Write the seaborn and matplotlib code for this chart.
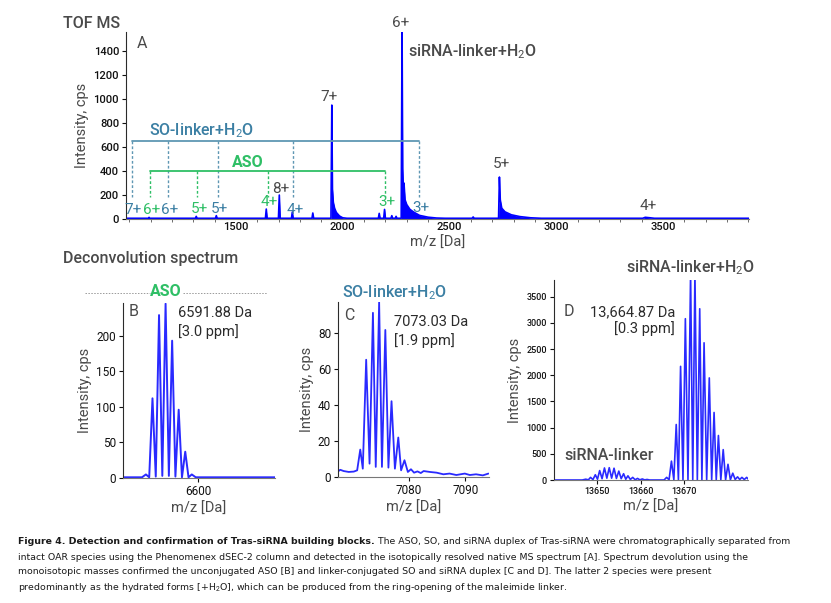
import matplotlib
matplotlib.use("Agg")
import matplotlib.pyplot as plt
import seaborn as sns
import pandas as pd

# ---- data: panel A (TOF MS spectrum, m/z vs intensity)
a_mz = [985, 1090, 1093, 1096, 1310, 1314, 1318, 1404, 1408, 1412, 1638, 1642, 1646,
        1699, 1703, 1707, 1760, 1764, 1768, 1856, 1860, 1864, 1945, 1949, 1952, 1956,
        1962, 1970, 1985, 2000, 2020, 2167, 2171, 2175, 2192, 2196, 2200, 2226, 2230,
        2234, 2246, 2250, 2254, 2274, 2278, 2281, 2284, 2287, 2292, 2300, 2315, 2335,
        2360, 2400, 2440, 2480, 2606, 2611, 2616, 2730, 2734, 2738, 2745, 2760, 2790,
        2830, 2880, 2930, 2980, 3405, 3417, 3440, 3460, 3903]
a_int = [6, 6, 14, 6, 6, 22, 6, 6, 28, 6, 6, 83, 6,
         6, 200, 6, 6, 58, 6, 6, 50, 6, 6, 950, 250, 140,
         90, 55, 25, 10, 6, 6, 47, 6, 6, 80, 6, 6, 28,
         6, 6, 22, 6, 6, 1600, 420, 260, 300, 160, 120, 80, 55,
         30, 15, 8, 6, 6, 17, 6, 6, 350, 160, 90, 60, 35,
         20, 10, 6, 6, 6, 14, 10, 6, 6]

# charge-state assignments (m/z of each charge)
so_mz = [1011, 1180, 1416, 1769, 2359]
so_lab = ["7+", "6+", "5+", "4+", "3+"]
so_lab_y = [75, 75, 85, 75, 90]
aso_mz = [1099, 1319, 1649, 2198]
aso_lab = ["6+", "5+", "4+", "3+"]
aso_lab_y = [75, 80, 140, 140]
main_mz = [1711, 1938, 2272, 2745, 3430]
main_lab = ["8+", "7+", "6+", "5+", "4+"]
main_lab_y = [253, 1017, 1633, 455, 105]

# ---- panel B (ASO deconvolution)
b_mass = [6588.5, 6591.4, 6592.0, 6592.5, 6593.0, 6593.5, 6594.0, 6594.5, 6595.0,
          6595.5, 6596.0, 6596.5, 6597.0, 6597.5, 6598.0, 6598.5, 6599.0, 6599.6, 6611.7]
b_int = [1, 1, 5, 1, 112, 2, 229, 3, 245, 3, 193, 2, 96, 1, 37, 1, 5, 1, 1]

# ---- panel C (SO-linker+H2O deconvolution)
c_mass = [7067.4, 7067.8, 7068.4, 7069.3, 7070.2, 7070.8, 7071.35, 7071.8, 7072.4,
          7073.0, 7073.6, 7074.1, 7074.7, 7075.2, 7075.8, 7076.35, 7076.9, 7077.5,
          7078.1, 7078.6, 7079.2, 7079.8, 7080.35, 7080.9, 7081.5, 7082.1, 7082.6,
          7083.7, 7084.9, 7086.1, 7087.2, 7088.4, 7089.9, 7090.8, 7091.9, 7093.1, 7094.1]
c_int = [3.1, 4.0, 3.3, 2.8, 3.0, 3.7, 15.2, 4.6, 65, 7.4, 91, 5.6, 97, 5.6, 81.5,
         5.2, 42, 4.6, 21.9, 3.7, 9.3, 2.8, 4.3, 2.4, 3.1, 2.2, 3.3, 2.8, 2.4, 1.5,
         1.9, 1.1, 1.9, 1.1, 1.5, 0.9, 1.9]

# ---- panel D (siRNA deconvolution)
d_mass = [13640.0, 13646.5, 13647.3, 13647.9, 13648.4, 13648.95, 13649.5, 13650.0,
          13650.5, 13651.05, 13651.6, 13652.15, 13652.7, 13653.25, 13653.8, 13654.35,
          13654.9, 13655.45, 13656.0, 13656.5, 13657.0, 13657.55, 13658.1, 13658.65,
          13659.2, 13659.75, 13660.3, 13660.85, 13661.4, 13662.0, 13665.3, 13665.9,
          13666.45, 13667.0, 13667.55, 13668.1, 13668.6, 13669.1, 13669.65, 13670.2,
          13670.8, 13671.4, 13671.9, 13672.4, 13672.95, 13673.5, 13674.0, 13674.5,
          13675.1, 13675.7, 13676.25, 13676.8, 13677.3, 13677.8, 13678.35, 13678.9,
          13679.45, 13680.0, 13680.55, 13681.1, 13681.65, 13682.2, 13682.7, 13683.2,
          13683.75, 13684.3, 13684.6]
d_int = [0, 0, 15, 3, 50, 8, 100, 15, 180, 25, 230, 35, 235, 35, 225, 30,
         170, 25, 120, 15, 80, 10, 50, 5, 30, 3, 20, 2, 10, 0, 0, 50,
         5, 360, 5, 1060, 5, 2170, 5, 3080, 5, 3950, 5, 3950, 5, 3270, 5, 2620,
         5, 1950, 5, 1290, 5, 850, 5, 580, 5, 300, 5, 130, 10, 60, 10, 50,
         10, 50, 20]

BLUE = "#0000ff"
LBLUE = "#2a2aff"
SO_C = "#3b7fa3"
SO_LINE = "#5f97b3"
ASO_C = "#2fbf66"
GRAY = "#4a4a4a"
DARK = "#2b2b2b"

sns.set_theme(style="ticks")
plt.rcParams["font.family"] = ["Roboto", "DejaVu Sans"]
plt.rcParams["mathtext.fontset"] = "custom"
plt.rcParams["mathtext.rm"] = "Roboto"
plt.rcParams["mathtext.it"] = "Roboto"
plt.rcParams["axes.linewidth"] = 0.8

W, H = 831, 603
fig = plt.figure(figsize=(W / 100, H / 100), dpi=100)


def rect(l, t, r, b):
    return [l / W, 1 - b / H, (r - l) / W, (b - t) / H]


def fx(px):
    return px / W


def fy(py):
    return 1 - py / H


def style_ax(ax, fs, weight="normal"):
    sns.despine(ax=ax)
    ax.spines["left"].set_color(DARK)
    ax.spines["bottom"].set_color("#777777")
    ax.tick_params(axis="both", labelsize=fs, colors="#111111", length=3, width=0.8, pad=2)
    for lab in ax.get_xticklabels() + ax.get_yticklabels():
        lab.set_fontweight(weight)
    ax.set_xlabel("m/z [Da]", color=GRAY, fontsize=10.5, labelpad=3)
    ax.set_ylabel("Intensity, cps", color=GRAY, fontsize=10.5, labelpad=3)
    ax.grid(False)


# ================= Panel A =================
axA = fig.add_axes(rect(126, 32, 749, 219))
dfA = pd.DataFrame({"mz": a_mz, "intensity": a_int})
axA.fill_between(dfA["mz"], 0, dfA["intensity"], color=BLUE, linewidth=0)
sns.lineplot(data=dfA, x="mz", y="intensity", ax=axA, color=BLUE, linewidth=1.2,
             estimator=None, sort=False)
axA.set_xlim(985, 3903)
axA.set_ylim(0, 1560)
axA.set_xticks([1500, 2000, 2500, 3000, 3500])
axA.set_yticks(range(0, 1401, 200))
axA.set_xticks(range(1000, 3901, 100), minor=True)
style_ax(axA, 8, "medium")
axA.tick_params(axis="x", which="minor", length=2, width=0.6, colors="#555555")
axA.tick_params(axis="x", which="major", length=0)

# SO-linker+H2O bracket
axA.plot([so_mz[0], so_mz[-1]], [650, 650], color=SO_LINE, lw=1.3)
for m, lab, ly in zip(so_mz, so_lab, so_lab_y):
    axA.plot([m, m], [650, 180], color=SO_LINE, lw=1.0, ls=(0, (2, 1.5)))
    axA.text(m + 8, ly, lab, color=SO_C, fontsize=11, ha="center", va="center")
axA.text(1340, 739, "SO-linker+H$_2$O", color=SO_C, fontsize=11.5, ha="center",
         va="center", fontweight="medium")

# ASO bracket
axA.plot([aso_mz[0], aso_mz[-1]], [400, 400], color=ASO_C, lw=1.3)
for m, lab, ly in zip(aso_mz, aso_lab, aso_lab_y):
    axA.plot([m, m], [400, 185], color=ASO_C, lw=1.0, ls=(0, (2, 1.5)))
    axA.text(m + 8, ly, lab, color=ASO_C, fontsize=11, ha="center", va="center")
axA.text(1554, 469, "ASO", color=ASO_C, fontsize=11.5, ha="center", va="center",
         fontweight="bold")

for m, lab, ly in zip(main_mz, main_lab, main_lab_y):
    axA.text(m, ly, lab, color=GRAY, fontsize=11, ha="center", va="center", clip_on=False)
axA.text(2307, 1392, "siRNA-linker+H$_2$O", color=GRAY, fontsize=11.5, ha="left",
         va="center", fontweight="medium")
axA.text(1059, 1460, "A", color=GRAY, fontsize=11.5, ha="center", va="center")

fig.text(fx(63), fy(23), "TOF MS", color=GRAY, fontsize=11.5, ha="left", va="center",
         fontweight="medium")
fig.text(fx(63), fy(259), "Deconvolution spectrum", color=GRAY, fontsize=11.5,
         ha="left", va="center", fontweight="medium")

# ================= Panel B =================
axB = fig.add_axes(rect(123, 303, 275, 478))
dfB = pd.DataFrame({"mass": b_mass, "intensity": b_int})
sns.lineplot(data=dfB, x="mass", y="intensity", ax=axB, color=LBLUE, linewidth=1.4,
             estimator=None, sort=False)
axB.set_xlim(6588.5, 6611.7)
axB.set_ylim(0, 246)
axB.set_xticks([6600])
axB.set_yticks([0, 50, 100, 150, 200])
style_ax(axB, 8.5)
fig.text(fx(129), fy(312), "B", color=GRAY, fontsize=11.5, ha="left", va="center")
fig.text(fx(178), fy(313), "6591.88 Da", color=DARK, fontsize=10.5, ha="left", va="center")
fig.text(fx(178), fy(332), "[3.0 ppm]", color=DARK, fontsize=10.5, ha="left", va="center")
fig.text(fx(166), fy(291), "ASO", color=ASO_C, fontsize=11.5, ha="center", va="center",
         fontweight="bold")
fig.add_artist(plt.Line2D([fx(85), fx(150)], [fy(293), fy(293)], color="#9a9a9a",
                          lw=0.7, ls=(0, (1.5, 1.5))))
fig.add_artist(plt.Line2D([fx(183), fx(267)], [fy(293), fy(293)], color="#9a9a9a",
                          lw=0.7, ls=(0, (1.5, 1.5))))

# ================= Panel C =================
axC = fig.add_axes(rect(338, 302, 489, 477))
dfC = pd.DataFrame({"mass": c_mass, "intensity": c_int})
sns.lineplot(data=dfC, x="mass", y="intensity", ax=axC, color=LBLUE, linewidth=1.3,
             estimator=None, sort=False)
axC.set_xlim(7067.4, 7094.2)
axC.set_ylim(0, 97)
axC.set_xticks([7080, 7090])
axC.set_yticks([0, 20, 40, 60, 80])
style_ax(axC, 8.5)
fig.text(fx(344), fy(315), "C", color=GRAY, fontsize=11.5, ha="left", va="center")
fig.text(fx(394), fy(322), "7073.03 Da", color=DARK, fontsize=10.5, ha="left", va="center")
fig.text(fx(394), fy(341), "[1.9 ppm]", color=DARK, fontsize=10.5, ha="left", va="center")
fig.text(fx(395), fy(293), "SO-linker+H$_2$O", color=SO_C, fontsize=11.5, ha="center",
         va="center", fontweight="medium")

# ================= Panel D =================
axD = fig.add_axes(rect(554, 280, 748, 480))
dfD = pd.DataFrame({"mass": d_mass, "intensity": d_int})
sns.lineplot(data=dfD, x="mass", y="intensity", ax=axD, color=LBLUE, linewidth=1.2,
             estimator=None, sort=False)
axD.set_xlim(13640, 13684.6)
axD.set_ylim(0, 3820)
axD.set_xticks([13650, 13660, 13670])
axD.set_yticks(range(0, 3501, 500))
style_ax(axD, 6.5, "medium")
fig.text(fx(564), fy(312), "D", color=GRAY, fontsize=11.5, ha="left", va="center")
fig.text(fx(675), fy(312), "13,664.87 Da", color=DARK, fontsize=10.5, ha="right", va="center")
fig.text(fx(675), fy(329), "[0.3 ppm]", color=DARK, fontsize=10.5, ha="right", va="center")
fig.text(fx(690), fy(268), "siRNA-linker+H$_2$O", color=GRAY, fontsize=11.5, ha="center",
         va="center", fontweight="medium")
fig.text(fx(564), fy(456), "siRNA-linker", color=GRAY, fontsize=11.5, ha="left",
         va="center", fontweight="medium")

# ================= caption =================
cap_bold = "Figure 4. Detection and confirmation of Tras-siRNA building blocks."
cap_lines = [
    " The ASO, SO, and siRNA duplex of Tras-siRNA were chromatographically separated from",
    "intact OAR species using the Phenomenex dSEC-2 column and detected in the isotopically "
    "resolved native MS spectrum [A]. Spectrum devolution using the",
    "monoisotopic masses confirmed the unconjugated ASO [B] and linker-conjugated SO and "
    "siRNA duplex [C and D]. The latter 2 species were present",
    "predominantly as the hydrated forms [+H$_2$O], which can be produced from the "
    "ring-opening of the maleimide linker.",
]
cap_y = [541, 557, 572, 588]
cap_kw = dict(family=["DejaVu Sans"], color="#1a1a1a", ha="left", va="center")
renderer = fig.canvas.get_renderer()

# fit the caption so that its first line spans the same width as in the figure
cap_fs = 7.0
tb = fig.text(fx(18), fy(cap_y[0]), cap_bold, fontsize=cap_fs, fontweight="bold", **cap_kw)
t1 = fig.text(0, fy(cap_y[0]), cap_lines[0], fontsize=cap_fs, **cap_kw)
w = tb.get_window_extent(renderer).width + t1.get_window_extent(renderer).width
cap_fs = cap_fs * 782 / w
tb.set_fontsize(cap_fs)
t1.set_fontsize(cap_fs)
bb = tb.get_window_extent(renderer)
t1.set_x(bb.x1 / fig.bbox.width)
for line, yy in zip(cap_lines[1:], cap_y[1:]):
    fig.text(fx(18), fy(yy), line, fontsize=cap_fs, **cap_kw)

fig.savefig("out.png", dpi=100, facecolor="white")
